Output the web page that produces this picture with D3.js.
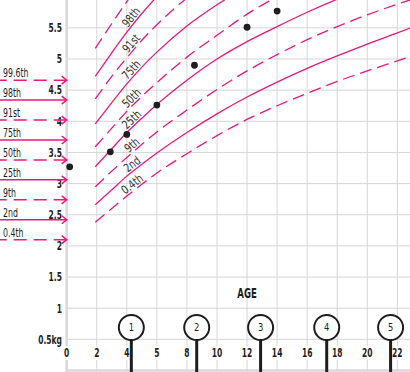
<!DOCTYPE html>
<html>
<head>
<meta charset="utf-8">
<script src="https://cdn.jsdelivr.net/npm/d3@7"></script>
<style>
  body { margin: 0; background: #fff; }
  svg { display: block; }
  text { font-family: "DejaVu Sans Condensed", "Liberation Sans Narrow", sans-serif; }
</style>
</head>
<body>
<div id="chart"></div>
<script>
// ages (weeks) the centile curves were read at
const curveAges = [1.9, 3, 4, 5, 6, 8, 10, 12, 14, 16, 18, 20, 22, 23];

// centile curves, kg (higher ones stop once they leave the top)
const c996 = [5.17, 5.57, 5.92, 6.24, 6.5];
const c98 = [4.72, 5.1, 5.43, 5.73, 6.0, 6.45];
const c91 = [4.36, 4.72, 5.02, 5.3, 5.55, 5.98, 6.35];
const c75 = [3.96, 4.3, 4.6, 4.87, 5.11, 5.53, 5.87, 6.17];
const c50 = [3.59, 3.89, 4.16, 4.4, 4.62, 5.03, 5.38, 5.72, 6.0];
const c25 = [3.27, 3.56, 3.82, 4.05, 4.27, 4.66, 5.0, 5.28, 5.52, 5.75, 5.96, 6.15];
const c9 = [2.95, 3.2, 3.42, 3.63, 3.83, 4.18, 4.51, 4.81, 5.07, 5.31, 5.52, 5.71, 5.88, 5.96];
const c2 = [2.66, 2.9, 3.12, 3.31, 3.49, 3.82, 4.12, 4.39, 4.63, 4.85, 5.05, 5.24, 5.42, 5.51];
const c04 = [2.38, 2.6, 2.8, 2.99, 3.17, 3.48, 3.77, 4.03, 4.25, 4.45, 4.64, 4.81, 4.97, 5.05];

const centileNames = ["99.6th", "98th", "91st", "75th", "50th", "25th", "9th", "2nd", "0.4th"];
const curveLabels = ["", "98th", "91st", "75th", "50th", "25th", "9th", "2nd", "0.4th"];
const dashedCurve = [true, false, true, false, true, false, true, false, true];

// left hand arrows (birth weight for each centile)
const birthWeights = [4.66, 4.34, 4.02, 3.70, 3.38, 3.06, 2.74, 2.42, 2.10];

// baby's own weighings
const babyAges = [0.2, 2.9, 4, 6, 8.5, 12, 14];
const babyWeights = [3.27, 3.51, 3.79, 4.26, 4.9, 5.51, 5.77];

// month markers
const markerAges = [4.3, 8.65, 12.9, 17.3, 21.55];
const markerLabels = ["1", "2", "3", "4", "5"];

// axes
const ageTicks = [0, 2, 4, 6, 8, 10, 12, 14, 16, 18, 20, 22];
const ageTickLabels = ["0", "2", "4", "5", "8", "10", "12", "14", "16", "18", "20", "22"];
const weightTicks = [0.5, 1, 1.5, 2, 2.5, 3, 3.5, 4, 4.5, 5, 5.5];
const weightTickLabels = ["0.5kg", "1", "1.5", "2", "2.5", "3", "3.5", "4", "4.5", "5", "5.5"];

const width = 410, height = 372;
const pink = "#e8187e";
const ink = "#1e1e1e";
const grid = "#d6d6d6";

const curves = [c996, c98, c91, c75, c50, c25, c9, c2, c04];

const x = d3.scaleLinear().domain([0, 23]).range([66.7, 66.7 + 23 * 15.03]);
const y = d3.scaleLinear().domain([0, 6]).range([370.5, 370.5 - 6 * 62.3]);

const svg = d3.select("#chart")
  .append("svg")
  .attr("width", width)
  .attr("height", height);

// narrow text: the reference face is a condensed grotesque
const narrowText = (sel, sx) => sel.append("text")
  .attr("transform", `scale(${sx},1)`);

// grid
svg.append("g")
  .selectAll("line")
  .data(weightTicks)
  .enter().append("line")
  .attr("x1", x(0))
  .attr("x2", width)
  .attr("y1", d => y(d))
  .attr("y2", d => y(d))
  .attr("stroke", grid)
  .attr("stroke-width", 1);

svg.append("g")
  .selectAll("line")
  .data(ageTicks.filter(d => d > 0))
  .enter().append("line")
  .attr("x1", d => x(d))
  .attr("x2", d => x(d))
  .attr("y1", 0)
  .attr("y2", y(0))
  .attr("stroke", grid)
  .attr("stroke-width", 1);

// axis lines (thick grey)
svg.append("line")
  .attr("x1", x(0)).attr("x2", x(0))
  .attr("y1", 0).attr("y2", height)
  .attr("stroke", "#d9d9d9")
  .attr("stroke-width", 2.5);

svg.append("line")
  .attr("x1", x(0) - 1).attr("x2", width)
  .attr("y1", y(0)).attr("y2", y(0))
  .attr("stroke", "#d9d9d9")
  .attr("stroke-width", 2.5);

// y tick labels
const yLab = svg.append("g")
  .selectAll("g")
  .data(weightTicks)
  .enter().append("g")
  .attr("transform", d => `translate(62, ${y(d)})`);

narrowText(yLab, 0.7)
  .attr("dy", "0.36em")
  .attr("text-anchor", "end")
  .attr("font-size", 12)
  .attr("font-weight", "bold")
  .attr("fill", ink)
  .text((d, i) => weightTickLabels[i]);

// x tick labels with white backing
const xLab = svg.append("g")
  .selectAll("g")
  .data(ageTicks)
  .enter().append("g")
  .attr("transform", d => `translate(${x(d)}, 353)`);

xLab.append("rect")
  .attr("x", (d, i) => -ageTickLabels[i].length * 3 - 1.5)
  .attr("y", -7)
  .attr("width", (d, i) => ageTickLabels[i].length * 6 + 3)
  .attr("height", 14)
  .attr("fill", "#fff");

narrowText(xLab, 0.7)
  .attr("text-anchor", "middle")
  .attr("dy", "0.36em")
  .attr("font-size", 12)
  .attr("font-weight", "bold")
  .attr("fill", ink)
  .text((d, i) => ageTickLabels[i]);

narrowText(svg.append("g").attr("transform", `translate(${x(12)}, 293)`), 0.68)
  .attr("dy", "0.36em")
  .attr("text-anchor", "middle")
  .attr("font-size", 14)
  .attr("font-weight", "bold")
  .attr("fill", ink)
  .text("AGE");

// centile curves
const line = d3.line()
  .x(d => x(d[0]))
  .y(d => y(d[1]))
  .curve(d3.curveMonotoneX);

const curvePts = curves.map(c => c.map((w, i) => [curveAges[i], w]));

svg.append("g")
  .selectAll("path")
  .data(curvePts)
  .enter().append("path")
  .attr("d", line)
  .attr("fill", "none")
  .attr("stroke", pink)
  .attr("stroke-width", 1.3)
  .attr("stroke-dasharray", (d, i) => dashedCurve[i] ? "12,6" : null);

// labels sitting on the curves
const valueAt = (pts, a) => {
  for (let i = 1; i < pts.length; i++) {
    if (a <= pts[i][0]) {
      const t = (a - pts[i - 1][0]) / (pts[i][0] - pts[i - 1][0]);
      return pts[i - 1][1] + t * (pts[i][1] - pts[i - 1][1]);
    }
  }
  return pts[pts.length - 1][1];
};

const labelAge = 4.6;
const cLab = svg.append("g")
  .selectAll("g")
  .data(curvePts.map((p, i) => ({ pts: p, name: curveLabels[i] })).filter(d => d.name))
  .enter().append("g")
  .attr("transform", d => {
    const px = x(labelAge), py = y(valueAt(d.pts, labelAge));
    const dx = x(labelAge + 0.4) - x(labelAge - 0.4);
    const dy = y(valueAt(d.pts, labelAge + 0.4)) - y(valueAt(d.pts, labelAge - 0.4));
    const ang = Math.atan2(dy, dx) * 180 / Math.PI;
    return `translate(${px}, ${py}) rotate(${ang})`;
  });

narrowText(cLab, 0.85)
  .attr("text-anchor", "middle")
  .attr("dy", -2)
  .attr("font-size", 12)
  .attr("fill", "#333")
  .text(d => d.name);

// arrows on the left
const arrows = svg.append("g")
  .selectAll("g")
  .data(birthWeights)
  .enter().append("g")
  .attr("transform", d => `translate(0, ${y(d)})`);

arrows.append("line")
  .attr("x1", x(0))
  .attr("x2", 0)
  .attr("y1", 0)
  .attr("y2", 0)
  .attr("stroke", pink)
  .attr("stroke-width", 1.5)
  .attr("stroke-dasharray", (d, i) => dashedCurve[i] ? "13,7" : null);

arrows.append("path")
  .attr("d", `M${x(0) - 5},-4L${x(0)},0L${x(0) - 5},4`)
  .attr("fill", "none")
  .attr("stroke", pink)
  .attr("stroke-width", 1.5);

narrowText(arrows.append("g").attr("transform", "translate(3, -3)"), 0.76)
  .attr("font-size", 11.5)
  .attr("fill", ink)
  .text((d, i) => centileNames[i]);

// baby's weighings
svg.append("g")
  .selectAll("circle")
  .data(babyAges)
  .enter().append("circle")
  .attr("cx", d => x(d))
  .attr("cy", (d, i) => y(babyWeights[i]))
  .attr("r", 3.4)
  .attr("fill", ink);

// month markers
const markers = svg.append("g")
  .selectAll("g")
  .data(markerAges)
  .enter().append("g")
  .attr("transform", d => `translate(${x(d)}, 327.5)`);

markers.append("line")
  .attr("x1", 0).attr("x2", 0)
  .attr("y1", 12).attr("y2", height)
  .attr("stroke", ink)
  .attr("stroke-width", 3);

markers.append("circle")
  .attr("r", 12.5)
  .attr("fill", "#fff")
  .attr("stroke", ink)
  .attr("stroke-width", 2);

narrowText(markers, 0.85)
  .attr("text-anchor", "middle")
  .attr("dy", "0.36em")
  .attr("font-size", 11)
  .attr("fill", ink)
  .text((d, i) => markerLabels[i]);
</script>
</body>
</html>
